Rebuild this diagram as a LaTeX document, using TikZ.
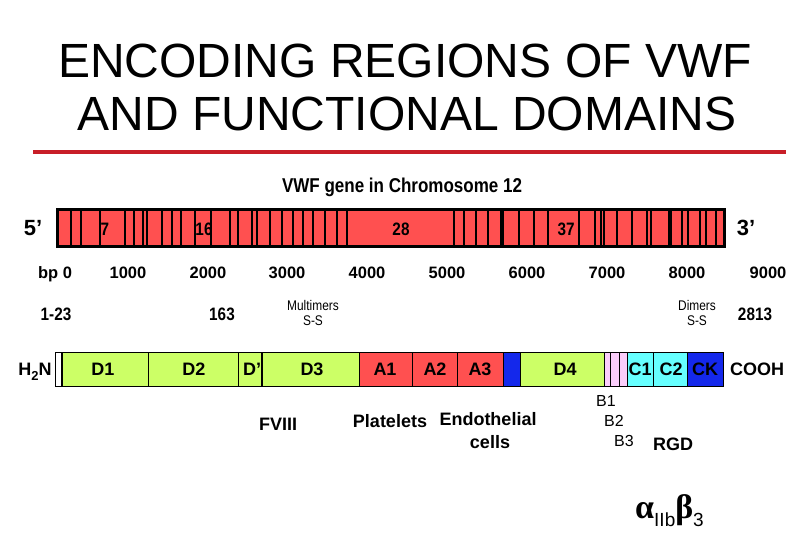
\documentclass[tikz,border=0pt]{standalone}
\usepackage{fontspec}
\setmainfont{Liberation Sans}
\newfontfamily\narrowf[FakeStretch=0.85]{Liberation Sans}
\newfontfamily\greekf{Liberation Serif}
\definecolor{titlered}{RGB}{200,30,40}
\definecolor{exred}{RGB}{255,80,80}
\definecolor{dgreen}{RGB}{204,255,102}
\definecolor{dblue}{RGB}{20,40,235}
\definecolor{dcyan}{RGB}{102,255,255}
\definecolor{dpink}{RGB}{250,205,250}
\tikzset{
  ttl/.style={anchor=base, inner sep=0pt, font=\fontsize{48}{56}\selectfont},
  sub/.style={anchor=base, inner sep=0pt, font=\narrowf\bfseries\fontsize{20}{24}\selectfont},
  exlbl/.style={anchor=base, inner sep=0pt, font=\narrowf\bfseries\fontsize{18}{20}\selectfont},
  endlbl/.style={anchor=base, inner sep=0pt, font=\bfseries\fontsize{22}{26}\selectfont},
  bp/.style={anchor=base, inner sep=0pt, font=\bfseries\fontsize{16.5}{20}\selectfont},
  aa/.style={anchor=base, inner sep=0pt, font=\narrowf\bfseries\fontsize{18}{22}\selectfont},
  small/.style={anchor=base, inner sep=0pt, font=\narrowf\fontsize{14}{16}\selectfont},
  exline/.style={line width=2pt, black},
  dom/.style={draw=black, line width=1pt},
  domlbl/.style={anchor=base, inner sep=0pt, font=\bfseries\fontsize{18}{22}\selectfont},
  bind/.style={anchor=base, inner sep=0pt, font=\bfseries\fontsize{18}{22}\selectfont},
  blbl/.style={anchor=base, inner sep=0pt, font=\fontsize{16}{20}\selectfont},
}
\begin{document}
\begin{tikzpicture}[x=1pt,y=-1pt]
\useasboundingbox[fill=white] (0,0) rectangle (810,540);
% title
\node[ttl] (t1) at (405,78) {ENCODING REGIONS OF VWF};
\node[ttl] (t2) at (407,131) {AND FUNCTIONAL DOMAINS};
\draw[titlered, line width=3.5pt] (33,152) -- (786,152);
\node[sub] (gene) at (402,193) {VWF gene in Chromosome 12};
% exon bar
\draw[line width=3pt, fill=exred] (57,209) rectangle (724,246);
\foreach \x in {71,81,100,125,134,143,147,162,172,181,195,211,230,238,252,257,270,282,293,303,313,325,337,347,454,464,476,488,519,534,548,579,595,601,604,617,632,647,651,682,688,700,706,716}
  \draw[exline] (\x,209) -- (\x,246);
\draw[line width=4pt] (502,209) -- (502,246);
\draw[line width=4pt] (670,209) -- (670,246);
\node[exlbl] (e7) at (105,235) {7};
\node[exlbl] (e16) at (204,235) {16};
\node[exlbl] (e28) at (401,235) {28};
\node[exlbl] (e37) at (566,235) {37};
\node[endlbl] (p5) at (33,235) {5’};
\node[endlbl] (p3) at (746,235) {3’};
% bp scale
\node[bp] (b0) at (55,278) {bp 0};
\node[bp] (b1) at (128,278) {1000};
\node[bp] (b2) at (208,278) {2000};
\node[bp] (b3) at (287,278) {3000};
\node[bp] (b4) at (367,278) {4000};
\node[bp] (b5) at (447,278) {5000};
\node[bp] (b6) at (527,278) {6000};
\node[bp] (b7) at (607,278) {7000};
\node[bp] (b8) at (687,278) {8000};
\node[bp] (b9) at (768,278) {9000};
% aa positions
\node[aa] (a1) at (56,320) {1-23};
\node[aa] (a2) at (222,320) {163};
\node[small] (mult) at (313,310) {Multimers};
\node[small] (mss) at (313,325) {S-S};
\node[small] (dim) at (697,310) {Dimers};
\node[small] (dss) at (697,325) {S-S};
\node[aa] (a3) at (755,320) {2813};
% domains
\node[domlbl] (h2n) at (35,375) {H\raisebox{-0.3em}{\fontsize{13}{15}\selectfont 2}N};
\draw[dom, fill=white] (55.5,352) rectangle (61,386);
\draw[dom, fill=dgreen] (62,352) rectangle (148,386);
\draw[dom, fill=dgreen] (148,352) rectangle (238,386);
\draw[dom, fill=dgreen] (238,352) rectangle (262,386);
\draw[dom, fill=dgreen] (262,352) rectangle (359,386);
\draw[dom, fill=exred] (359,352) rectangle (412,386);
\draw[dom, fill=exred] (412,352) rectangle (457,386);
\draw[dom, fill=exred] (457,352) rectangle (503,386);
\draw[dom, fill=dblue] (503,352) rectangle (520,386);
\draw[dom, fill=dgreen] (520,352) rectangle (604,386);
\draw[dom, fill=dpink] (604,352) rectangle (610,386);
\draw[dom, fill=dpink] (610,352) rectangle (619,386);
\draw[dom, fill=dpink] (619,352) rectangle (627,386);
\draw[dom, fill=dcyan] (627,352) rectangle (653,386);
\draw[dom, fill=dcyan] (653,352) rectangle (687,386);
\draw[dom, fill=dblue] (687,352) rectangle (723,386);
\node[domlbl] (d1) at (103,375) {D1};
\node[domlbl] (d2) at (194,375) {D2};
\node[domlbl] (dp) at (252,375) {D’};
\draw[line width=2pt] (262,352) -- (262,386);
\node[domlbl] (d3) at (312,375) {D3};
\node[domlbl] (da1) at (385,375) {A1};
\node[domlbl] (da2) at (435,375) {A2};
\node[domlbl] (da3) at (480,375) {A3};
\node[domlbl] (d4) at (565,375) {D4};
\node[domlbl] (c1) at (640,375) {C1};
\node[domlbl] (c2) at (671,375) {C2};
\node[domlbl] (ck) at (705,375) {CK};
\node[domlbl] (cooh) at (757,375) {COOH};
% binding labels
\node[bind] (fviii) at (278,430) {FVIII};
\node[bind] (plt) at (390,427) {Platelets};
\node[bind] (endo) at (488,425) {Endothelial};
\node[bind] (cells) at (490,448) {cells};
\node[blbl] (bb1) at (606,406) {B1};
\node[blbl] (bb2) at (614,426) {B2};
\node[blbl] (bb3) at (624,446) {B3};
\node[bind] (rgd) at (673,450) {RGD};
\node[anchor=base west, inner sep=0pt] (integrin) at (635,518) {\greekf\bfseries\fontsize{34}{40}\selectfont α\raisebox{-0.25em}{\rmfamily\mdseries\fontsize{19}{22}\selectfont IIb}β\raisebox{-0.25em}{\rmfamily\mdseries\fontsize{19}{22}\selectfont 3}};
\end{tikzpicture}
\end{document}
